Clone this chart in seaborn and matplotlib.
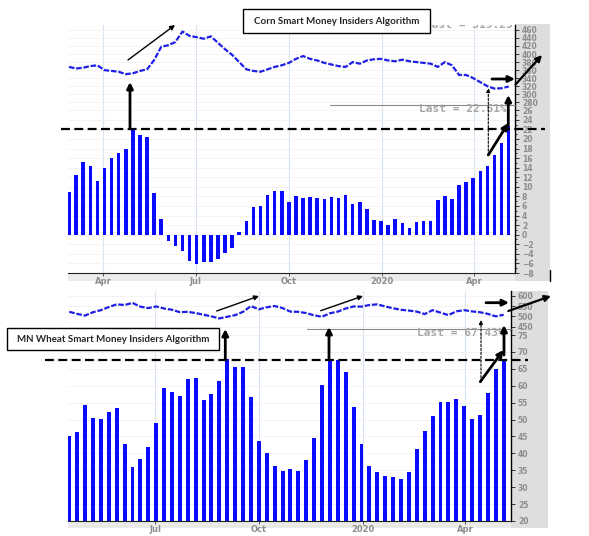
import numpy as np
import pandas as pd
import matplotlib
matplotlib.use("Agg")
import matplotlib.pyplot as plt
import matplotlib.dates as mdates
import seaborn as sns
from matplotlib.patches import Rectangle, FancyArrowPatch
from matplotlib.lines import Line2D

# --- data ---
corn_weeks = pd.date_range("2019-02-26", periods=63, freq="7D")
corn_signal = [9.0, 12.5, 15.1, 14.3, 11.3, 13.9, 16.1, 17.0, 18.0, 22.3,
               20.9, 20.4, 8.8, 3.2, -1.4, -2.4, -3.3, -5.4, -6.1, -5.8,
               -5.6, -5.0, -3.8, -2.7, 0.6, 2.8, 5.8, 6.0, 8.3, 9.2,
               9.1, 6.8, 8.0, 7.6, 7.8, 7.7, 7.5, 7.9, 7.6, 8.2,
               6.4, 6.8, 5.4, 3.1, 2.8, 2.1, 3.2, 2.4, 1.3, 2.6,
               2.9, 2.9, 7.3, 8.1, 7.4, 10.3, 11.1, 11.9, 13.4, 14.3,
               16.6, 19.1, 22.61]
corn_price = [368, 364, 366, 370, 372, 360, 358, 356, 350, 352,
              358, 362, 385, 418, 422, 430, 456, 445, 442, 438,
              444, 428, 412, 398, 380, 362, 358, 356, 362, 368,
              372, 378, 388, 395, 388, 384, 378, 374, 370, 368,
              380, 376, 384, 387, 388, 384, 382, 386, 382, 380,
              378, 376, 368, 380, 372, 348, 348, 340, 330, 320,
              314, 315, 319.25]
corn_ticks = ["2019-04-01", "2019-07-01", "2019-10-01", "2020-01-01", "2020-04-01"]
corn_tick_labels = ["Apr", "Jul", "Oct", "2020", "Apr"]
corn_threshold = 22

wheat_weeks = pd.date_range("2019-04-16", periods=56, freq="7D")
wheat_signal = [45.1, 46.3, 54.3, 50.6, 50.3, 52.3, 53.5, 42.8, 35.9, 38.2,
                41.9, 49.1, 59.4, 58.2, 56.9, 61.9, 62.3, 55.8, 57.5, 61.4,
                67.9, 65.6, 65.7, 56.8, 43.6, 40.0, 36.3, 34.8, 35.3, 34.9,
                38.1, 44.6, 60.1, 67.6, 67.6, 64.0, 53.6, 42.7, 36.3, 34.5,
                33.2, 33.0, 32.4, 34.5, 41.3, 46.5, 51.2, 55.1, 55.1, 56.2,
                54.0, 50.2, 51.5, 58.0, 64.9, 67.43]
wheat_price = [522, 512, 504, 520, 530, 545, 558, 555, 565, 547,
               540, 548, 538, 532, 520, 522, 516, 508, 500, 490,
               498, 506, 522, 550, 534, 544, 550, 540, 523, 522,
               516, 505, 498, 515, 523, 538, 548, 547, 555, 558,
               548, 539, 532, 528, 523, 511, 530, 518, 506, 524,
               530, 524, 520, 512, 500, 508]
wheat_ticks = ["2019-07-01", "2019-10-01", "2020-01-01", "2020-04-01"]
wheat_tick_labels = ["Jul", "Oct", "2020", "Apr"]
wheat_threshold = 67.6

BAR = "#0a0aff"
LINE = "#1f1fe6"
TICK_GREY = "#8c8c8c"
LAST_GREY = "#a8a8a8"

sns.set_style("white")
plt.rcParams["font.family"] = ["DejaVu Sans"]

W, H = 589, 536
fig = plt.figure(figsize=(W / 100, H / 100), dpi=100)


def box(l, t, r, b):
    return [l / W, 1 - b / H, (r - l) / W, (b - t) / H]


def fpt(x, y):
    return (x / W, 1 - y / H)


def rect(l, t, r, b, color, z=-1, edge="none", lw=0):
    fig.add_artist(Rectangle(fpt(l, b), (r - l) / W, (b - t) / H,
                             transform=fig.transFigure, facecolor=color,
                             edgecolor=edge, lw=lw, zorder=z))


def arrow(x0, y0, x1, y1, lw=1.0, ls="-", scale=8):
    fig.add_artist(FancyArrowPatch(fpt(x0, y0), fpt(x1, y1), transform=fig.transFigure,
                                   arrowstyle="-|>", mutation_scale=scale, lw=lw,
                                   linestyle=ls, color="black", shrinkA=0, shrinkB=0,
                                   zorder=6))


def style_axis(ax, yticks, minor=None, bottom=False):
    ax.set_facecolor("none")
    for s in ["left", "top"]:
        ax.spines[s].set_visible(False)
    ax.spines["right"].set_color("black")
    ax.spines["right"].set_linewidth(1)
    ax.spines["bottom"].set_visible(bottom)
    ax.spines["bottom"].set_color("#222222")
    ax.yaxis.tick_right()
    ax.set_yticks(yticks)
    if minor is not None:
        ax.set_yticks(minor, minor=True)
    ax.tick_params(axis="y", which="both", right=True, left=False, labelright=True,
                   labelleft=False, length=3, width=0.7, color="#333333",
                   labelsize=5.5, labelcolor=TICK_GREY, pad=2)
    ax.tick_params(axis="y", which="minor", length=1.5)
    for lbl in ax.get_yticklabels():
        lbl.set_fontweight("bold")
    ax.grid(True, axis="y", color="#f1f1f1", lw=0.6)
    ax.grid(True, axis="x", color="#d8e5f1", lw=0.8)
    ax.set_xlabel("")
    ax.set_ylabel("")


def draw_panel(weeks, signal, price, ticks, tick_labels, bar_box, px_box,
               bar_lim, px_lim, bar_ticks, bar_minor, px_ticks, pad_left, pad_right):
    x = mdates.date2num(weeks)
    xlim = (x[0] - pad_left, x[-1] + pad_right)
    tick_x = mdates.date2num(pd.to_datetime(ticks))

    bax = fig.add_axes(box(*bar_box))
    sns.barplot(x=x, y=signal, native_scale=True, width=0.5, color=BAR,
                saturation=1, errorbar=None, linewidth=0, ax=bax)
    bax.set_xlim(*xlim)
    bax.set_ylim(*bar_lim)
    style_axis(bax, bar_ticks, bar_minor, bottom=True)
    bax.set_xticks(tick_x)
    bax.set_xticklabels(tick_labels, fontsize=6, color=TICK_GREY, fontweight="bold")
    bax.tick_params(axis="x", bottom=True, length=2, width=0.7, color="#555555", pad=1)

    pax = fig.add_axes(box(*px_box))
    sns.lineplot(x=x, y=price, color=LINE, lw=1.6, linestyle=(0, (2.5, 0.8)), ax=pax)
    pax.set_xlim(*xlim)
    pax.set_ylim(*px_lim)
    style_axis(pax, px_ticks)
    pax.set_xticks(tick_x)
    pax.tick_params(axis="x", bottom=False, labelbottom=False)
    return bax, pax


# background strips (behind axes)
rect(515, 24, 550, 281, "#dedede")
rect(68, 273, 515, 281, "#ebebeb")
rect(511, 291, 548, 528, "#dedede")
rect(68, 521, 511, 528, "#ebebeb")

# --- Corn panel ---
cb, cp = draw_panel(corn_weeks, corn_signal, corn_price, corn_ticks, corn_tick_labels,
                    (68, 105, 515, 273), (68, 25, 515, 105),
                    (-8, 27.1), (273.3, 472.2),
                    np.arange(-8, 27, 2), np.arange(-7, 27, 2),
                    np.arange(280, 461, 20), 1.0, 6.2)
cb.axhline(corn_threshold, xmin=-0.016, xmax=1.067, color="black", lw=1.6,
           linestyle=(0, (4, 2)), clip_on=False, zorder=5)
cp.text(0.9955, 1.0, "Last = %.2f" % corn_price[-1], transform=cp.transAxes,
        ha="right", va="center", fontsize=8, color=LAST_GREY, fontweight="bold",
        family="DejaVu Sans Mono", clip_on=True)
fig.add_artist(Line2D([330 / W, 515 / W], [1 - 105.3 / H] * 2, color="#8a8a8a", lw=0.8))
fig.text(507 / W, 1 - 108.5 / H, "Last = %.2f%%" % corn_signal[-1], ha="right", va="center",
         fontsize=8, color=LAST_GREY, fontweight="bold", family="DejaVu Sans Mono")

# --- Wheat panel ---
wb, wp = draw_panel(wheat_weeks, wheat_signal, wheat_price, wheat_ticks, wheat_tick_labels,
                    (68, 330, 511, 521), (68, 291, 511, 330),
                    (20, 76.5), (434, 622.7),
                    np.arange(20, 76, 5), None,
                    np.arange(450, 601, 50), 1.15, 6.5)
wb.axhline(wheat_threshold, xmin=-0.052, xmax=1.038, color="black", lw=1.6,
           linestyle=(0, (4, 2)), clip_on=False, zorder=5)
fig.add_artist(Line2D([307 / W, 511 / W], [1 - 329.3 / H] * 2, color="#8a8a8a", lw=0.8))
fig.text(505 / W, 1 - 333 / H, "Last = %.2f%%" % wheat_signal[-1], ha="right", va="center",
         fontsize=8, color=LAST_GREY, fontweight="bold", family="DejaVu Sans Mono")

# title boxes
rect(243, 9, 430, 33, "white", z=5, edge="black", lw=1)
fig.text(336.5 / W, 1 - 21 / H, "Corn Smart Money Insiders Algorithm", ha="center",
         va="center", fontsize=7, fontweight="bold", family="Lato", zorder=7)
rect(7, 328, 219, 350, "white", z=5, edge="black", lw=1)
fig.text(113 / W, 1 - 339 / H, "MN Wheat Smart Money Insiders Algorithm", ha="center",
         va="center", fontsize=7, fontweight="bold", family="Lato", zorder=7)

# hand-drawn arrows, corn
arrow(130, 129, 130, 82, lw=2, scale=9)
arrow(128, 60, 175, 25, lw=1, scale=7)
arrow(488.3, 155, 488.3, 88, lw=0.8, ls=(0, (2, 1.5)), scale=6)
arrow(488.3, 155, 508.3, 123, lw=2, scale=9)
arrow(508.3, 126, 508.3, 95, lw=2, scale=9)
arrow(492, 79, 515, 79, lw=2, scale=9)
arrow(515.5, 84.5, 542, 55, lw=1.6, scale=9)

# hand-drawn arrows, wheat
arrow(225.3, 360, 225.3, 329, lw=2, scale=9)
arrow(216.7, 311, 259, 296, lw=1, scale=7)
arrow(320.7, 310.7, 363, 296, lw=1, scale=7)
arrow(329, 360, 329, 327, lw=2, scale=9)
arrow(481, 381.7, 481, 320, lw=0.8, ls=(0, (2, 1.5)), scale=6)
arrow(480.3, 381.7, 503.5, 350, lw=2, scale=9)
arrow(504, 355, 504, 325, lw=2, scale=9)
arrow(486, 302.7, 509, 302.7, lw=2, scale=9)
arrow(508.3, 311, 551, 296, lw=1.6, scale=9)

fig.add_artist(Line2D([550 / W] * 2, [1 - 270 / H, 1 - 281 / H], color="black", lw=1))

fig.savefig("out.png", dpi=100)
